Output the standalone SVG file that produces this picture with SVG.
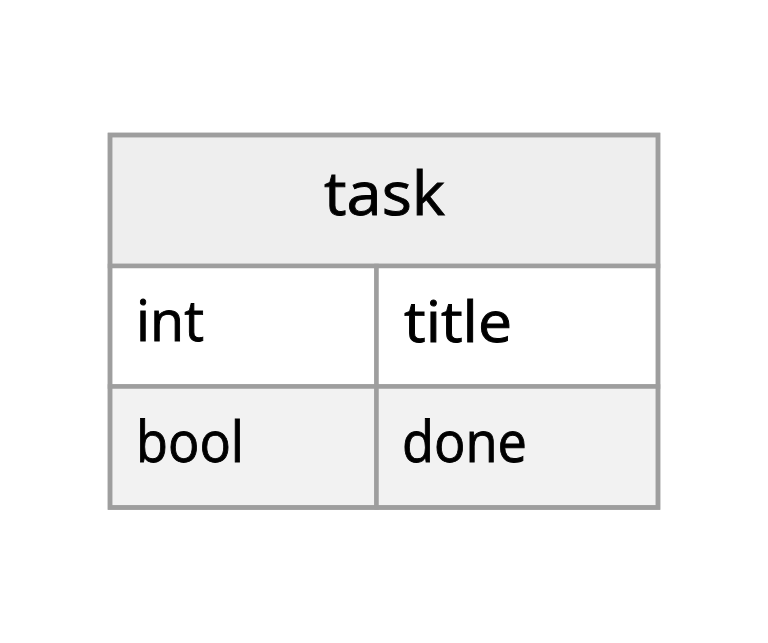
<svg xmlns="http://www.w3.org/2000/svg" width="768" height="643" viewBox="0 0 768 643">
  <style>
    .cell { stroke: #9e9e9e; stroke-width: 4.5; }
    .hdr { fill: #eeeeee; }
    .odd { fill: #ffffff; }
    .even { fill: #f2f2f2; }
    .t { font-family: "Open Sans", "DejaVu Sans", sans-serif; fill: #000000; stroke: #000000; stroke-width: 0.9; }
    .name { font-size: 61px; }
    .attr { font-size: 56px; }
  </style>
  <rect x="0" y="0" width="768" height="643" fill="#ffffff"/>
  <g id="task">
    <rect class="cell hdr" x="110" y="135" width="548" height="131"/>
    <rect class="cell odd" x="110" y="266" width="266.5" height="120.5"/>
    <rect class="cell odd" x="376.5" y="266" width="281.5" height="120.5"/>
    <rect class="cell even" x="110" y="386.5" width="266.5" height="121"/>
    <rect class="cell even" x="376.5" y="386.5" width="281.5" height="121"/>
    <rect x="110" y="135" width="548" height="372.5" fill="none" class="cell"/>
    <text class="t name" x="384.5" y="215" text-anchor="middle" textLength="121" lengthAdjust="spacingAndGlyphs">task</text>
    <text class="t attr" x="136" y="341" textLength="68" lengthAdjust="spacingAndGlyphs">int</text>
    <text class="t attr" x="404" y="341.5" textLength="108" lengthAdjust="spacingAndGlyphs">title</text>
    <text class="t attr" x="136" y="462.3" textLength="108" lengthAdjust="spacingAndGlyphs">bool</text>
    <text class="t attr" x="402" y="462" textLength="125" lengthAdjust="spacingAndGlyphs">done</text>
  </g>
  <g id="connectors"></g>
</svg>
